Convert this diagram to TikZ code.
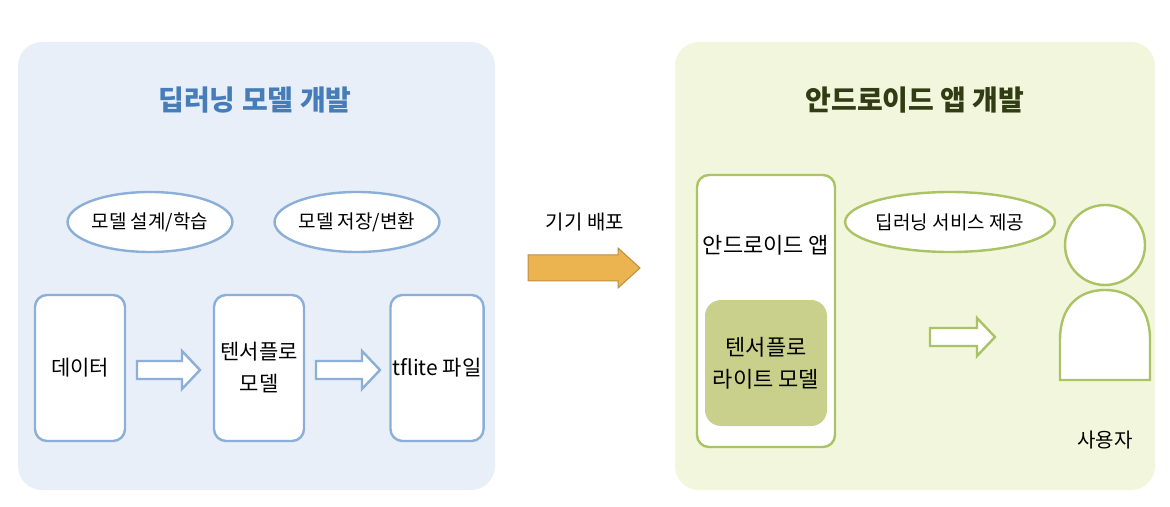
\documentclass[tikz,border=0pt]{standalone}
\usepackage{fontspec}
\setmainfont{Noto Sans CJK KR}
\usetikzlibrary{shapes.geometric}
\tikzset{every picture/.style={line width=0.75pt}}
\definecolor{bluepanel}{RGB}{232,239,249}
\definecolor{greenpanel}{RGB}{242,246,220}
\definecolor{blueline}{RGB}{140,175,215}
\definecolor{bluetitle}{RGB}{70,125,185}
\definecolor{greenline}{RGB}{170,195,100}
\definecolor{greentitle}{RGB}{50,60,20}
\definecolor{olivefill}{RGB}{200,208,140}
\definecolor{orangearrow}{RGB}{235,180,80}
\tikzset{
  panel/.style={rounded corners=12pt, draw=none},
  task/.style={ellipse, draw=#1, fill=white, line width=1.2pt, inner sep=0pt, font=\fontsize{9.5}{12}\selectfont},
  stagebox/.style={draw=blueline, fill=white, rounded corners=6pt, line width=1.2pt, inner sep=1pt, minimum width=45pt, minimum height=73pt, align=center, font=\fontsize{10.5}{16}\selectfont},
  hollow/.style={draw=#1, fill=white, line width=1.2pt},
}
% arrow outline: start x, end x, mid y, half shaft, half head, head length
\newcommand{\blockarrow}[7][]{\draw[#1] (#2,#4-#5) -- (#3-#7,#4-#5) -- (#3-#7,#4-#6) -- (#3,#4) -- (#3-#7,#4+#6) -- (#3-#7,#4+#5) -- (#2,#4+#5) -- cycle;}
\begin{document}
\begin{tikzpicture}[x=0.5pt,y=0.5pt,yscale=-1,xscale=1]
\useasboundingbox (0,0) rectangle (1170,507);
\fill[white] (0,0) rectangle (1170,507);

% panels
\fill[bluepanel, panel] (18,42) rectangle (495,490);
\fill[greenpanel, panel] (675,42) rectangle (1155,490);

% titles
\node[text=bluetitle, font=\fontsize{14}{16}\selectfont\bfseries] (lefttitle) at (255,100) {딥러닝 모델 개발};
\node[text=greentitle, font=\fontsize{14}{16}\selectfont\bfseries] (righttitle) at (915,100) {안드로이드 앱 개발};

% left side
\node[task=blueline, minimum width=76pt, minimum height=30pt] (design) at (150,222) {모델 설계/학습};
\node[task=blueline, minimum width=76pt, minimum height=30pt] (save) at (357,222) {모델 저장/변환};
\node[stagebox] (data) at (80,368) {데이터};
\node[stagebox] (tfmodel) at (259,368) {텐서플로\\모델};
\node[stagebox] (tflite) at (437,368) {tflite 파일};
\blockarrow[hollow=blueline]{137}{200}{370}{9}{19}{18}
\blockarrow[hollow=blueline]{316}{380}{370}{9}{19}{18}

% deploy
\node[font=\fontsize{10}{12}\selectfont] (deploy) at (585,222) {기기 배포};
\blockarrow[fill=orangearrow, draw=orangearrow!80!black, line width=0.5pt]{528}{640}{268}{13}{20}{22}

% right side
\draw[greenline, fill=white, rounded corners=6pt, line width=1.2pt] (697,175) rectangle (835,447);
\node[font=\fontsize{11}{14}\selectfont] (app) at (766,245) {안드로이드 앱};
\node[fill=olivefill, rounded corners=8pt, minimum width=61pt, minimum height=63pt, align=center, font=\fontsize{11}{16}\selectfont] (lite) at (766,363) {텐서플로\\라이트 모델};
\node[task=greenline, minimum width=100pt, minimum height=30pt] (service) at (950,222) {딥러닝 서비스 제공};
\blockarrow[hollow=greenline]{930}{995}{337}{9}{19}{18}

% user
\draw[greenline, fill=white, line width=1.2pt] (1105,245) circle (40);
\draw[greenline, fill=white, line width=1.2pt] (1060,380) -- (1060,340) .. controls (1060,305) and (1080,290) .. (1105,290) .. controls (1130,290) and (1150,305) .. (1150,340) -- (1150,380) -- cycle;
\node[font=\fontsize{10}{12}\selectfont] (user) at (1105,440) {사용자};
\end{tikzpicture}
\end{document}
